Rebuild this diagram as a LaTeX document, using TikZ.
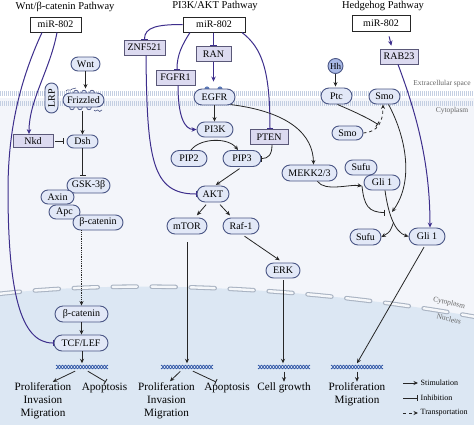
\documentclass[tikz,border=0pt]{standalone}
\usepackage{fontspec}
\setmainfont{Liberation Serif}
\usetikzlibrary{arrows.meta,shapes.misc,calc}
\definecolor{pur}{HTML}{3D2E8C}
\definecolor{pillf}{HTML}{E2E8F7}
\definecolor{pilld}{HTML}{4A5685}
\definecolor{boxf}{HTML}{DCDAF0}
\definecolor{boxd}{HTML}{5A5878}
\definecolor{cyto}{HTML}{F3F5FA}
\definecolor{nuc}{HTML}{DCE7F3}
\definecolor{memb}{HTML}{C4CFE2}
\definecolor{dnac}{HTML}{3359A8}
\definecolor{hhf}{HTML}{A9B9E6}
\definecolor{envd}{HTML}{A9B3C2}
\definecolor{envl}{HTML}{F5F7FA}
\definecolor{lab}{HTML}{666666}
\newcommand\myNF{\fontsize{10}{12}\selectfont}
\newcommand\myHF{\fontsize{10.5}{12}\selectfont}
\newcommand\myRF{\fontsize{11.2}{13}\selectfont}
\newcommand\mySF{\fontsize{7.5}{9}\selectfont}
\newcommand\myLF{\fontsize{8}{9}\selectfont}
\begin{document}
\begin{tikzpicture}[x=1pt,y=-1pt,
  pill/.style={rounded rectangle, draw=pilld, fill=pillf, line width=0.9pt, inner sep=0pt, font=\myNF},
  box/.style={rectangle, draw=boxd, fill=boxf, line width=0.8pt, inner sep=0pt, font=\myNF},
  mir/.style={rectangle, draw=black!85, fill=white, line width=1pt, inner sep=0pt, font=\myNF},
  sz/.style 2 args={minimum width=#1pt, minimum height=#2pt},
  stim/.style={-{Stealth[length=4.5pt,width=4pt]}, line width=0.8pt, draw=black!85},
  inh/.style={-{Bar[width=6pt,line width=0.9pt]}, line width=0.8pt, draw=black!85},
  pstim/.style={-{Stealth[length=5pt,width=4.5pt]}, line width=1pt, draw=pur},
  pinh/.style={-{Bar[width=6.5pt,line width=1pt]}, line width=1pt, draw=pur},
  res/.style={font=\myRF, align=center, inner sep=0pt},
  dnabox/.style={minimum width=54pt, minimum height=7pt, inner sep=0pt},
  small/.style={font=\mySF, text=lab, inner sep=0pt}
]
\useasboundingbox (0,0) rectangle (474,424);
% backgrounds
\fill[white] (0,0) rectangle (474,424);
\fill[cyto] (0,98) rectangle (474,424);
\fill[nuc] (-2,294) .. controls (120,280) and (300,285) .. (476,317) -- (476,426) -- (-2,426) -- cycle;
% cell membrane
\draw[memb, line width=5pt, dash pattern=on 0.9pt off 1.1pt] (0,93) -- (474,93);
\draw[memb, line width=5pt, dash pattern=on 0.9pt off 1.1pt] (0,103) -- (474,103);
% nuclear envelope
\draw[envd, line width=4.5pt, line cap=round, dash pattern=on 24pt off 15pt, dash phase=2pt] (-2,294) .. controls (120,280) and (300,285) .. (476,317);
\draw[envl, line width=2.4pt, line cap=round, dash pattern=on 24pt off 15pt, dash phase=2pt] (-2,294) .. controls (120,280) and (300,285) .. (476,317);
% region labels
\node[small] (lext) at (442,84) {Extracellular space};
\node[small] (lcyt) at (452,110.5) {Cytoplasm};
\node[small, rotate=-13] (lcyt2) at (449,303) {Cytoplasm};
\node[small, rotate=-13] (lnuc) at (449,319) {Nucleus};
% headings
\node[font=\myHF, inner sep=0pt] (h1) at (65,7) {Wnt/β-catenin Pathway};
\node[font=\myHF, inner sep=0pt] (h2) at (215,6) {PI3K/AKT Pathway};
\node[font=\myHF, inner sep=0pt] (h3) at (383,6) {Hedgehog Pathway};
% miR boxes
\node[mir, sz={51}{15}] (mirL) at (55.5,24.5) {miR-802};
\node[mir, sz={62}{15}] (mirM) at (214,24.5) {miR-802};
\node[mir, sz={58}{16}] (mirR) at (381,23) {miR-802};
% target boxes
\node[box, sz={41}{15}] (znf) at (144.5,47.5) {ZNF521};
\node[box, sz={35}{15}] (ran) at (213.5,54) {RAN};
\node[box, sz={39}{15}] (fgfr) at (175.5,77.5) {FGFR1};
\node[box, sz={38}{15}] (pten) at (269,137) {PTEN};
\node[box, sz={40}{13}] (nkd) at (33,141) {Nkd};
\node[box, sz={38}{15}] (rab) at (399,56.5) {RAB23};
% Wnt pathway
\node[pill, sz={29}{14}] (wnt) at (85.5,64) {Wnt};
\foreach \bx/\by in {76/92.5,84/92.5,92/92.5,72/107.5,80/107.5,89/107.5}
  \draw[draw=pilld, fill=pillf, line width=0.7pt] (\bx,\by) circle (2.3pt);
\draw[pilld, line width=0.6pt] (66,91) .. controls (68,88) and (70,92) .. (72,89) .. controls (73,87) and (75,90) .. (76,88);
\draw[pilld, line width=0.6pt] (94,110) .. controls (96,113) and (97,108) .. (99,111) .. controls (100,113) and (101,109) .. (102,110);
\node[pill, sz={41}{14}] (friz) at (83.5,100) {Frizzled};
\node[pill, rotate=90, sz={30}{13}] (lrp) at (51.5,98) {LRP};
\node[pill, sz={31}{13}] (dsh) at (82.5,141.5) {Dsh};
\node[pill, sz={43}{15}] (gsk) at (88.5,185.5) {GSK-3β};
\node[pill, sz={33}{14}] (axin) at (57.5,197) {Axin};
\node[pill, sz={31}{14}] (apc) at (64.5,212) {Apc};
\node[pill, sz={50}{15}] (bcat) at (98,222.5) {β-catenin};
\node[pill, sz={53}{16}] (bcatn) at (81.5,314) {β-catenin};
\node[pill, sz={54}{16}] (tcf) at (81,343) {TCF/LEF};
% PI3K pathway
\fill[dnac!80] (207,89) circle (2.6pt);
\fill[dnac!80] (220,89) circle (2.6pt);
\node[pill, sz={41}{16}] (egfr) at (214.5,97) {EGFR};
\node[pill, sz={36}{15}] (pi3k) at (215,129.5) {PI3K};
\node[pill, sz={36}{16}] (pip2) at (189,158.5) {PIP2};
\node[pill, sz={38}{16}] (pip3) at (242,158.5) {PIP3};
\node[pill, sz={32}{16}] (akt) at (213,194) {AKT};
\node[pill, sz={40}{16}] (mtor) at (187,226) {mTOR};
\node[pill, sz={36}{16}] (raf) at (241,226) {Raf-1};
\node[pill, sz={34}{15}] (erk) at (283,270.5) {ERK};
\node[pill, sz={55}{16}] (mekk) at (309.5,173) {MEKK2/3};
% Hedgehog pathway
\node[circle, draw=pilld, fill=hhf, line width=0.9pt, minimum size=15pt, inner sep=0pt, font=\fontsize{9}{10}\selectfont] (hh) at (335.5,66) {Hh};
\node[pill, sz={31}{16}] (ptc) at (336.5,96) {Ptc};
\node[pill, sz={31}{15}] (smoM) at (384.5,96.5) {Smo};
\node[pill, sz={31}{14}] (smoC) at (347.5,133) {Smo};
\node[pill, sz={32}{15}] (sufu1) at (361,167.5) {Sufu};
\node[pill, sz={36}{15}] (gli1a) at (382,182.5) {Gli 1};
\node[pill, sz={31}{16}] (sufu2) at (365.5,237) {Sufu};
\node[pill, sz={36}{17}] (gli1b) at (427,236.5) {Gli 1};
% DNA
\node[dnabox] (dnaL) at (82,367) {};
\node[dnabox] (dnaM) at (187,367) {};
\node[dnabox] (dnaE) at (284,367) {};
\node[dnabox] (dnaH) at (357,367) {};
\foreach \n in {dnaL,dnaM,dnaE,dnaH}{
  \draw[dnac, line width=0.75pt, shift={(\n.center)}] plot[domain=-26:26, samples=160] (\x,{1.7*sin(\x*60)});
  \draw[dnac, line width=0.75pt, shift={(\n.center)}] plot[domain=-26:26, samples=160] (\x,{-1.7*sin(\x*60)});
}
% results
\node[res] (proL) at (43,401) {Proliferation\\Invasion\\Migration};
\node[res] (apoL) at (104.5,388) {Apoptosis};
\node[res] (proM) at (166.5,401) {Proliferation\\Invasion\\Migration};
\node[res] (apoM) at (227,388) {Apoptosis};
\node[res] (cell) at (284,388) {Cell growth};
\node[res] (proH) at (357,394.5) {Proliferation\\Migration};
% ---- Wnt connectors
\draw[pstim] ([xshift=1.5pt]mirL.south) .. controls (50,70) and (29,100) .. ([xshift=-4pt]nkd.north);
\draw[pinh] ([xshift=-13.5pt]mirL.south) .. controls (20,80) and (8,130) .. (8,190) .. controls (8,290) and (20,343) .. (tcf.west);
\draw[inh, shorten <=2pt, shorten >=3pt] (nkd.east) -- (nkd.east -| dsh.west);
\draw[stim, shorten >=4pt] (wnt.south) -- (wnt.south |- friz.north);
\draw[stim, shorten <=4pt] (friz.south -| dsh.north) -- (dsh.north);
\draw[inh, shorten >=2pt] (dsh.south) -- (dsh.south |- gsk.north);
\draw[stim, densely dotted, line width=1pt] (bcatn.north |- bcat.south) -- (bcatn.north);
\draw[stim] (bcatn.south) -- (bcatn.south |- tcf.north);
\draw[stim] (tcf.south -| dnaL.north) -- (dnaL.north);
\draw[stim, shorten <=1pt, shorten >=2pt] ([xshift=-6pt]dnaL.south) -- ([xshift=8pt]proL.north);
\draw[inh, shorten <=1pt, shorten >=2pt] ([xshift=5pt]dnaL.south) -- ([xshift=3pt]apoL.north);
% ---- PI3K connectors
\draw[pinh] (mirM.west) .. controls (158,24.5) and (144.5,27) .. (znf.north);
\draw[pinh] (mirM.south -| ran.north) -- (ran.north);
\draw[pinh] ([xshift=-24pt]mirM.south) .. controls (182,45) and (177,55) .. ([xshift=1.5pt]fgfr.north);
\draw[pinh] ([xshift=28pt]mirM.south) .. controls (262,48) and (270,70) .. ([xshift=1pt]pten.north);
\draw[pstim, shorten >=7pt] (ran.south) -- (ran.south |- egfr.north);
\draw[pstim] ([xshift=2.5pt]fgfr.south) .. controls (178,115) and (184,129.5) .. (pi3k.west);
\draw[pinh] ([xshift=1.5pt]znf.south) .. controls (147,160) and (152,194) .. (akt.west);
\draw[stim] (egfr.south) -- (egfr.south |- pi3k.north);
\draw[stim] (egfr.-25) .. controls (290,112) and (313,135) .. ([xshift=4pt]mekk.north);
\draw[stim] ([xshift=2pt]pip2.north) .. controls (200,138) and (228,137) .. ([xshift=-4pt]pip3.north);
\draw[inh] ([xshift=3pt]pten.south) .. controls (272,155) and (268,158.5) .. (pip3.east);
\draw[stim, shorten <=3pt, shorten >=1pt] (pip3.south) -- ([xshift=2pt]akt.north);
\draw[stim, shorten <=3pt, shorten >=3pt] ([xshift=-5pt]akt.south) -- ([xshift=8pt]mtor.north);
\draw[stim, shorten <=3pt, shorten >=3pt] ([xshift=5pt]akt.south) -- ([xshift=-9pt]raf.north);
\draw[stim, shorten <=3pt, shorten >=4pt] ([xshift=1pt]raf.south) -- (erk.north);
\draw[stim, shorten <=8pt] (mtor.south) -- (mtor.south |- dnaM.north);
\draw[stim, shorten <=2pt] (erk.south) -- (erk.south |- dnaE.north);
\draw[stim, shorten <=1pt, shorten >=2pt] ([xshift=-6pt]dnaM.south) -- ([xshift=2pt]proM.north);
\draw[inh, shorten <=1pt, shorten >=2pt] ([xshift=5pt]dnaM.south) -- ([xshift=-9pt]apoM.north);
\draw[stim, shorten <=1pt, shorten >=1pt] (dnaE.south) -- (cell.north);
% ---- Hedgehog connectors
\draw[pstim, shorten <=5pt, shorten >=3pt] ([xshift=7pt]mirR.south) -- ([xshift=-7pt]rab.north);
\draw[pstim] ([xshift=-1pt]rab.south) .. controls (415,110) and (430,160) .. ([xshift=3pt]gli1b.north);
\draw[stim, shorten >=1pt] (hh.south) -- (hh.south |- ptc.north);
\draw[stim, dashed, line width=0.8pt] (smoC.east) .. controls (378,132) and (383,122) .. ([xshift=-1.5pt]smoM.south) coordinate[pos=0.5] (tr);
\draw[inh, shorten >=1pt] ([xshift=1pt]ptc.south) .. controls (355,112) and (368,118) .. (tr);
\coordinate (conv) at (392,212);
\coordinate (j1) at (362,186);
\coordinate (b1) at (385,212.5);
\draw[stim] ([xshift=4pt]smoM.south) .. controls (405,135) and (415,180) .. (conv);
\draw[stim] ([xshift=8pt]mekk.south) .. controls (325,192) and (350,184) .. (j1);
\draw[inh] (j1) .. controls (364,205) and (368,212.5) .. (b1);
\draw[stim] ([xshift=3pt]gli1a.south) .. controls (388,212) and (394,232) .. (gli1b.west) coordinate[pos=0.55] (br);
\draw[stim] (br) .. controls (390,232) .. (sufu2.east);
\draw[stim, shorten <=2pt] ([xshift=-2pt]gli1b.south) -- (dnaH.north);
\draw[stim, shorten <=1pt, shorten >=1pt] (dnaH.south) -- (dnaH.south |- proH.north);
% ---- legend
\coordinate (la1) at (403,383); \coordinate (lb1) at (418,383);
\coordinate (la2) at (403,398); \coordinate (lb2) at (418,398);
\coordinate (la3) at (403,413); \coordinate (lb3) at (418,413);
\draw[stim] (la1) -- (lb1);
\draw[inh] (la2) -- (lb2);
\draw[stim, dashed] (la3) -- (lb3);
\node[font=\myLF, anchor=west, inner sep=0pt] (t1) at (420.5,383) {Stimulation};
\node[font=\myLF, anchor=west, inner sep=0pt] (t2) at (420.5,398) {Inhibition};
\node[font=\myLF, anchor=west, inner sep=0pt] (t3) at (420.5,413) {Transportation};
\end{tikzpicture}
\end{document}
